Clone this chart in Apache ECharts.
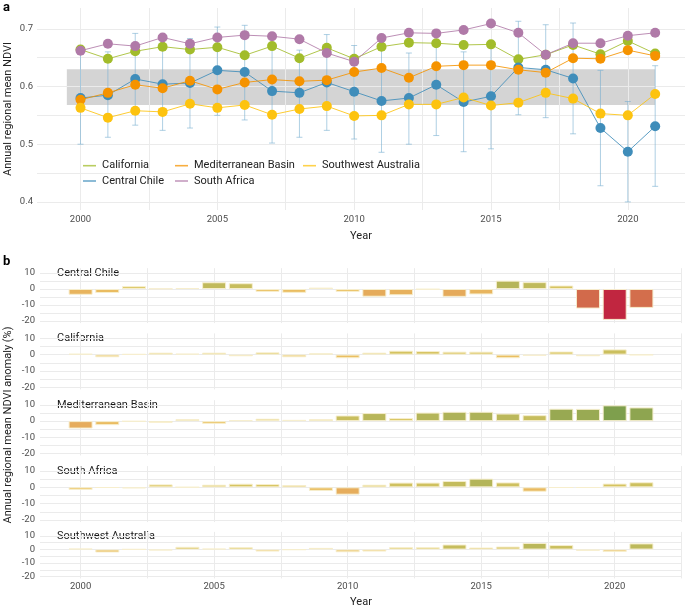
<!DOCTYPE html>
<html><head><meta charset="utf-8">
<script src="https://cdn.jsdelivr.net/npm/echarts@6/dist/echarts.min.js"></script>
<style>html,body{margin:0;padding:0;background:#fff}#c{width:685px;height:609px}</style>
</head><body><div id="c"></div>
<script>
const years = [2000,2001,2002,2003,2004,2005,2006,2007,2008,2009,2010,2011,2012,2013,2014,2015,2016,2017,2018,2019,2020,2021];
const regions = ['California','Central Chile','Mediterranean Basin','South Africa','Southwest Australia'];
const regionColors = ['#a2bc2b','#3f8dba','#f59300','#b07aa8','#fdc30f'];

// Panel a: annual regional mean NDVI
const ndviCalifornia = [0.664,0.648,0.661,0.669,0.664,0.668,0.654,0.670,0.649,0.667,0.648,0.669,0.676,0.675,0.672,0.673,0.647,0.655,0.672,0.656,0.679,0.657];
const ndviChile      = [0.580,0.585,0.613,0.604,0.606,0.628,0.625,0.592,0.589,0.607,0.591,0.575,0.580,0.603,0.573,0.583,0.633,0.629,0.614,0.528,0.487,0.531];
const ndviMed        = [0.577,0.589,0.603,0.597,0.610,0.595,0.607,0.612,0.609,0.611,0.625,0.632,0.615,0.635,0.637,0.637,0.629,0.624,0.649,0.648,0.663,0.653];
const ndviSAfrica    = [0.662,0.674,0.670,0.685,0.674,0.685,0.689,0.687,0.682,0.658,0.643,0.684,0.693,0.692,0.698,0.709,0.693,0.655,0.675,0.675,0.688,0.693];
const ndviSWAust     = [0.563,0.546,0.558,0.556,0.570,0.563,0.568,0.551,0.561,0.566,0.549,0.550,0.569,0.569,0.581,0.567,0.572,0.589,0.579,0.553,0.550,0.587];
// Central Chile spread (error bars)
const chileLow  = [0.500,0.512,0.533,0.524,0.528,0.550,0.542,0.502,0.512,0.524,0.509,0.486,0.500,0.515,0.487,0.492,0.551,0.546,0.518,0.428,0.400,0.427];
const chileHigh = [0.661,0.660,0.692,0.684,0.683,0.703,0.706,0.682,0.663,0.690,0.671,0.663,0.658,0.691,0.660,0.674,0.713,0.707,0.710,0.628,0.574,0.636];
// grey reference band
const bandYears = [1999.5, 2021];
const bandNdvi = [0.568, 0.630];

// Panel b: anomalies (%)
const anomChile   = [-3.6,-2.5,1.8,0.3,0.6,4.2,3.6,-1.8,-2.4,0.9,-1.8,-4.8,-3.9,-0.3,-4.9,-3.4,5.2,4.3,2.2,-12.2,-19.3,-11.8];
const anomCalif   = [0.5,-1.6,0.3,1.2,0.6,1.2,-1.0,1.4,-1.6,0.8,-2.2,1.2,2.4,2.2,1.8,1.8,-2.2,-0.7,1.9,-1.0,3.2,-0.3];
const anomMed     = [-4.6,-2.5,-0.2,-1.0,1.2,-1.7,0.6,1.5,0.8,1.2,3.5,5.0,1.9,5.3,5.8,5.8,4.7,3.7,7.7,7.6,9.8,8.5];
const anomSAfrica = [-1.6,-0.2,-0.6,1.8,0.1,1.6,2.2,2.0,1.4,-2.2,-4.5,1.6,2.9,2.9,3.9,5.3,3.0,-2.7,-0.2,-0.2,2.3,3.1];
const anomSWAust  = [0.7,-2.2,0.2,-0.7,2.0,0.7,1.7,-1.5,-0.2,1.2,-2.0,-1.5,1.7,1.7,3.7,1.5,2.2,4.8,3.3,-0.9,-1.8,4.5];

const yTicksA = [0.4,0.5,0.6,0.7];
const xTickYears = [2000,2005,2010,2015,2020];

const FONT = 'Roboto';
const gridLine = {color:'#ebebeb', width:1};
const tickColor = '#4d4d4d';

const ndviSeries = [ndviCalifornia, ndviChile, ndviMed, ndviSAfrica, ndviSWAust];
const anomSeries = [anomChile, anomCalif, anomMed, anomSAfrica, anomSWAust];
const facetNames = ['Central Chile','California','Mediterranean Basin','South Africa','Southwest Australia'];

function isMult(v, step){ const q = v/step; return Math.abs(q - Math.round(q)) < 1e-6; }

const facetGrids = [
  {top:268.2, height:54.9},
  {top:333.4, height:56.0},
  {top:400.2, height:55.2},
  {top:466.1, height:56.0},
  {top:531.9, height:46.5}
];

const grids = [{left:37, top:8, width:648, height:202}];
facetGrids.forEach(g => grids.push({left:40, top:g.top, width:642, height:g.height}));

const xAxes = [{
  type:'value', gridIndex:0, min:1998.41, max:2022.09, minInterval:2.5, maxInterval:2.5,
  splitLine:{show:true, showMinLine:false, showMaxLine:false, interval:0, lineStyle:gridLine},
  axisLine:{show:false}, axisTick:{show:false},
  axisLabel:{interval:0, showMinLabel:false, showMaxLabel:false, margin:5, color:tickColor, fontSize:9.5, fontFamily:FONT,
    formatter: v => xTickYears.some(t => Math.abs(t - v) < 1e-6) ? String(Math.round(v)) : ''},
  name:'Year', nameLocation:'middle', nameGap:21, nameTextStyle:{color:'#222', fontSize:11, fontFamily:FONT}
}];
const yAxes = [{
  type:'value', gridIndex:0, min:0.386, max:0.736, minInterval:0.05, maxInterval:0.05,
  splitLine:{show:true, showMinLine:false, showMaxLine:false, lineStyle:gridLine},
  axisLine:{show:false}, axisTick:{show:false},
  axisLabel:{showMinLabel:false, showMaxLabel:false, margin:4, color:tickColor, fontSize:9.5, fontFamily:FONT,
    formatter: v => yTicksA.some(t => Math.abs(t - v) < 1e-6) ? v.toFixed(1) : ''}
}];
facetGrids.forEach((g, i) => {
  const last = i === facetGrids.length - 1;
  xAxes.push({
    type:'value', gridIndex:i+1, min:1998.48, max:2022.52, minInterval:2.5, maxInterval:2.5,
    splitLine:{show:true, showMinLine:false, showMaxLine:false, interval:0, lineStyle:gridLine},
    axisLine:{show:false}, axisTick:{show:false},
    axisLabel:{show:last, interval:0, showMinLabel:false, showMaxLabel:false, margin:3, color:tickColor, fontSize:9.5, fontFamily:FONT,
      formatter: v => xTickYears.some(t => Math.abs(t - v) < 1e-6) ? String(Math.round(v)) : ''},
    name: last ? 'Year' : '', nameLocation:'middle', nameGap:18.5, nameTextStyle:{color:'#222', fontSize:11, fontFamily:FONT}
  });
  yAxes.push({
    type:'value', gridIndex:i+1, min:-21.3, max:13, minInterval:5, maxInterval:5,
    splitLine:{show:true, showMinLine:false, showMaxLine:false, lineStyle:gridLine},
    axisLine:{show:false}, axisTick:{show:false},
    axisLabel:{showMinLabel:false, showMaxLabel:false, margin:5, color:tickColor, fontSize:9.5, fontFamily:FONT,
      formatter: v => isMult(v, 10) ? String(Math.round(v)) : ''}
  });
});

const series = [];
// grey band (below grid lines)
series.push({
  type:'custom', name:'band', xAxisIndex:0, yAxisIndex:0, z:-1, silent:true,
  data:[[bandYears[0], bandYears[1], bandNdvi[0], bandNdvi[1]]],
  renderItem:(params, api) => {
    const p1 = api.coord([api.value(0), api.value(3)]);
    const p2 = api.coord([api.value(1), api.value(2)]);
    return {type:'rect', shape:{x:p1[0], y:p1[1], width:p2[0]-p1[0], height:p2[1]-p1[1]}, style:{fill:'#d4d4d4'}};
  }
});
// error bars for Central Chile
series.push({
  type:'custom', name:'chileErr', xAxisIndex:0, yAxisIndex:0, z:1, silent:true,
  data: years.map((y,i) => [y, chileLow[i], chileHigh[i]]),
  renderItem:(params, api) => {
    const x = api.value(0);
    const lo = api.coord([x, api.value(1)]);
    const hi = api.coord([x, api.value(2)]);
    const w = 3;
    const st = {stroke:'rgba(120,175,208,0.6)', lineWidth:1};
    return {type:'group', children:[
      {type:'line', shape:{x1:lo[0], y1:lo[1], x2:hi[0], y2:hi[1]}, style:st},
      {type:'line', shape:{x1:lo[0]-w, y1:lo[1], x2:lo[0]+w, y2:lo[1]}, style:st},
      {type:'line', shape:{x1:hi[0]-w, y1:hi[1], x2:hi[0]+w, y2:hi[1]}, style:st}
    ]};
  }
});
regions.forEach((r, k) => {
  series.push({
    type:'line', name:r, xAxisIndex:0, yAxisIndex:0, z:3+k,
    data: years.map((y,i) => [y, ndviSeries[k][i]]),
    symbol:'circle', symbolSize:10, showSymbol:true,
    itemStyle:{color:regionColors[k], opacity:1},
    lineStyle:{color:regionColors[k], width:1, opacity:0.85},
    emphasis:{disabled:true}, animation:false
  });
});
const barIdx = [];
anomSeries.forEach((arr, k) => {
  barIdx.push(series.length);
  series.push({
    type:'bar', name:'anom'+k, xAxisIndex:k+1, yAxisIndex:k+1,
    data: years.map((y,i) => [y, arr[i]]),
    barWidth:24,
    itemStyle:{borderColor:'rgba(247,238,205,0.95)', borderWidth:1},
    emphasis:{disabled:true}, animation:false
  });
});

// legend: one legend per item, arranged in ggplot-like columns
const legendPos = [
  {name:'California', left:83, y:165.7},
  {name:'Central Chile', left:83, y:181},
  {name:'Mediterranean Basin', left:175, y:165.7},
  {name:'South Africa', left:175, y:181},
  {name:'Southwest Australia', left:303, y:165.7}
];
const legends = legendPos.map(p => ({
  data:[p.name], left:p.left, top:p.y - 7, padding:0, itemGap:0,
  icon:'rect', itemWidth:13, itemHeight:1.6, selectedMode:false,
  textStyle:{fontSize:11, fontFamily:FONT, color:'#222', lineHeight:14, padding:[0,0,0,1]},
  itemStyle:{opacity:0.75}
}));

const graphics = [
  {type:'text', x:3, y:8, style:{text:'a', font:'bold 13px '+FONT, fill:'#000', verticalAlign:'middle'}},
  {type:'text', x:3, y:262, style:{text:'b', font:'bold 13px '+FONT, fill:'#000', verticalAlign:'middle'}},
  {type:'text', x:8, y:109, rotation:Math.PI/2, style:{text:'Annual regional mean NDVI', font:'11px '+FONT, fill:'#222', align:'center', verticalAlign:'middle'}},
  {type:'text', x:8, y:425, rotation:Math.PI/2, style:{text:'Annual regional mean NDVI anomaly (%)', font:'11px '+FONT, fill:'#222', align:'center', verticalAlign:'middle'}}
];
const facetTitleY = [273, 338.3, 405, 471, 536];
facetNames.forEach((n, i) => {
  graphics.push({type:'text', x:57, y:facetTitleY[i], style:{text:n, font:'11px '+FONT, fill:'#1a1a1a', verticalAlign:'middle'}});
});

const chart = echarts.init(document.getElementById('c'), null, {renderer:'canvas'});
chart.setOption({
  animation:false,
  backgroundColor:'#fff',
  textStyle:{fontFamily:FONT},
  grid: grids,
  xAxis: xAxes,
  yAxis: yAxes,
  legend: legends,
  visualMap: {type:'continuous', show:false, min:-20, max:10, dimension:1, seriesIndex:barIdx,
    inRange:{color:['#bf1f3f','#cb4e45','#d88050','#e5a95b','#eecf66','#b8b65a','#7c9e4c']}},
  graphic: graphics,
  series: series
});
</script></body></html>
